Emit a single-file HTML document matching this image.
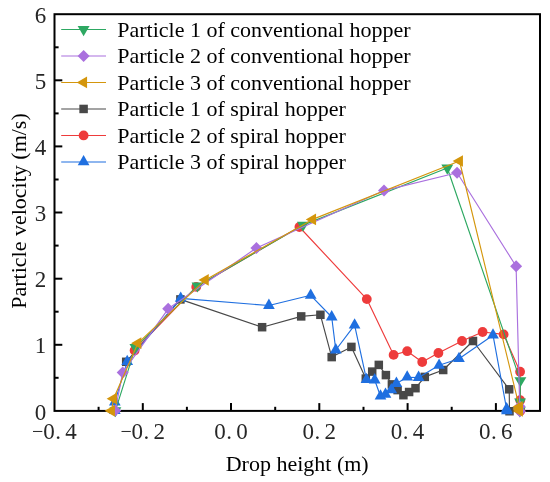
<!DOCTYPE html>
<html lang="en">
<head>
<meta charset="utf-8">
<title>Particle velocity vs drop height</title>
<style>
html,body{margin:0;padding:0;background:#fff;}
body{width:550px;height:482px;overflow:hidden;}
svg{display:block;}
.lab{font-family:"Liberation Serif",serif;font-size:22px;fill:#000;}
.tick{font-family:"Liberation Serif",serif;font-size:23px;fill:#262626;}
</style>
</head>
<body>
<svg width="550" height="482" viewBox="0 0 550 482">
<rect x="0" y="0" width="550" height="482" fill="#ffffff"/>

<g id="axes" stroke="#000" stroke-width="2" fill="none">
<rect x="54.5" y="14.2" width="485.5" height="396.7"/>
<line x1="98.6" y1="410.9" x2="98.6" y2="406.8"/>
<line x1="142.8" y1="410.9" x2="142.8" y2="403.1"/>
<line x1="186.9" y1="410.9" x2="186.9" y2="406.8"/>
<line x1="231.0" y1="410.9" x2="231.0" y2="403.1"/>
<line x1="275.2" y1="410.9" x2="275.2" y2="406.8"/>
<line x1="319.3" y1="410.9" x2="319.3" y2="403.1"/>
<line x1="363.5" y1="410.9" x2="363.5" y2="406.8"/>
<line x1="407.6" y1="410.9" x2="407.6" y2="403.1"/>
<line x1="451.7" y1="410.9" x2="451.7" y2="406.8"/>
<line x1="495.9" y1="410.9" x2="495.9" y2="403.1"/>
<line x1="54.5" y1="377.8" x2="58.6" y2="377.8"/>
<line x1="54.5" y1="344.8" x2="62.3" y2="344.8"/>
<line x1="54.5" y1="311.7" x2="58.6" y2="311.7"/>
<line x1="54.5" y1="278.7" x2="62.3" y2="278.7"/>
<line x1="54.5" y1="245.6" x2="58.6" y2="245.6"/>
<line x1="54.5" y1="212.5" x2="62.3" y2="212.5"/>
<line x1="54.5" y1="179.5" x2="58.6" y2="179.5"/>
<line x1="54.5" y1="146.4" x2="62.3" y2="146.4"/>
<line x1="54.5" y1="113.4" x2="58.6" y2="113.4"/>
<line x1="54.5" y1="80.3" x2="62.3" y2="80.3"/>
<line x1="54.5" y1="47.3" x2="58.6" y2="47.3"/>
</g>
<g id="series" stroke-linejoin="round">
<g class="s-black">
<polyline fill="none" stroke="#484848" stroke-width="1.15" points="126.2,361.8 180.4,299.4 262.1,327.2 301.2,316.4 320.4,314.8 331.7,357.1 351.4,346.9 365.8,378.6 372.2,371.6 378.8,364.9 385.9,375.1 391.9,384.4 397.6,390.1 403.4,395.2 409.1,392.0 415.5,388.2 424.8,376.9 443.2,370.0 473.0,341.0 509.2,389.3 509.5,411.2"/>
<rect x="121.95" y="357.55" width="8.5" height="8.5" fill="#484848"/>
<rect x="176.15" y="295.15" width="8.5" height="8.5" fill="#484848"/>
<rect x="257.85" y="322.95" width="8.5" height="8.5" fill="#484848"/>
<rect x="296.95" y="312.15" width="8.5" height="8.5" fill="#484848"/>
<rect x="316.15" y="310.55" width="8.5" height="8.5" fill="#484848"/>
<rect x="327.45" y="352.85" width="8.5" height="8.5" fill="#484848"/>
<rect x="347.15" y="342.65" width="8.5" height="8.5" fill="#484848"/>
<rect x="361.55" y="374.35" width="8.5" height="8.5" fill="#484848"/>
<rect x="367.95" y="367.35" width="8.5" height="8.5" fill="#484848"/>
<rect x="374.55" y="360.65" width="8.5" height="8.5" fill="#484848"/>
<rect x="381.65" y="370.85" width="8.5" height="8.5" fill="#484848"/>
<rect x="387.65" y="380.15" width="8.5" height="8.5" fill="#484848"/>
<rect x="393.35" y="385.85" width="8.5" height="8.5" fill="#484848"/>
<rect x="399.15" y="390.95" width="8.5" height="8.5" fill="#484848"/>
<rect x="404.85" y="387.75" width="8.5" height="8.5" fill="#484848"/>
<rect x="411.25" y="383.95" width="8.5" height="8.5" fill="#484848"/>
<rect x="420.55" y="372.65" width="8.5" height="8.5" fill="#484848"/>
<rect x="438.95" y="365.75" width="8.5" height="8.5" fill="#484848"/>
<rect x="468.75" y="336.75" width="8.5" height="8.5" fill="#484848"/>
<rect x="504.95" y="385.05" width="8.5" height="8.5" fill="#484848"/>
<rect x="505.25" y="407.00" width="8.5" height="8.5" fill="#484848"/>
</g>
<g class="s-red">
<polyline fill="none" stroke="#ee3b3b" stroke-width="1.15" points="134.6,350.5 196.2,286.9 299.4,227.0 366.8,299.1 393.6,354.9 407.2,351.2 422.2,362.0 438.4,353.0 462.0,341.0 482.6,332.0 503.6,334.4 520.1,371.7 520.2,400.2 520.4,410.8"/>
<circle cx="134.60" cy="350.50" r="4.9" fill="#ee3b3b"/>
<circle cx="196.20" cy="286.90" r="4.9" fill="#ee3b3b"/>
<circle cx="299.40" cy="227.00" r="4.9" fill="#ee3b3b"/>
<circle cx="366.80" cy="299.10" r="4.9" fill="#ee3b3b"/>
<circle cx="393.60" cy="354.90" r="4.9" fill="#ee3b3b"/>
<circle cx="407.20" cy="351.20" r="4.9" fill="#ee3b3b"/>
<circle cx="422.20" cy="362.00" r="4.9" fill="#ee3b3b"/>
<circle cx="438.40" cy="353.00" r="4.9" fill="#ee3b3b"/>
<circle cx="462.00" cy="341.00" r="4.9" fill="#ee3b3b"/>
<circle cx="482.60" cy="332.00" r="4.9" fill="#ee3b3b"/>
<circle cx="503.60" cy="334.40" r="4.9" fill="#ee3b3b"/>
<circle cx="520.10" cy="371.70" r="4.9" fill="#ee3b3b"/>
<circle cx="520.20" cy="400.20" r="4.9" fill="#ee3b3b"/>
<circle cx="520.40" cy="410.80" r="4.9" fill="#ee3b3b"/>
</g>
<g class="s-blue">
<polyline fill="none" stroke="#1f6fe0" stroke-width="1.15" points="114.8,410.7 114.8,402.1 127.2,361.7 180.7,298.4 268.9,305.5 310.7,295.3 331.7,317.0 335.8,350.0 354.6,325.2 366.5,379.7 374.7,380.0 380.5,396.2 385.5,394.3 391.3,389.9 396.4,383.5 407.2,377.2 418.6,377.5 439.1,365.3 459.0,358.7 493.0,335.2 506.6,409.0 506.9,410.8"/>
<polygon points="108.95,414.10 120.65,414.10 114.80,403.80" fill="#1f6fe0"/>
<polygon points="108.95,405.50 120.65,405.50 114.80,395.20" fill="#1f6fe0"/>
<polygon points="121.35,365.10 133.05,365.10 127.20,354.80" fill="#1f6fe0"/>
<polygon points="174.85,301.80 186.55,301.80 180.70,291.50" fill="#1f6fe0"/>
<polygon points="263.05,308.90 274.75,308.90 268.90,298.60" fill="#1f6fe0"/>
<polygon points="304.85,298.70 316.55,298.70 310.70,288.40" fill="#1f6fe0"/>
<polygon points="325.85,320.40 337.55,320.40 331.70,310.10" fill="#1f6fe0"/>
<polygon points="329.95,353.40 341.65,353.40 335.80,343.10" fill="#1f6fe0"/>
<polygon points="348.75,328.60 360.45,328.60 354.60,318.30" fill="#1f6fe0"/>
<polygon points="360.65,383.10 372.35,383.10 366.50,372.80" fill="#1f6fe0"/>
<polygon points="368.85,383.40 380.55,383.40 374.70,373.10" fill="#1f6fe0"/>
<polygon points="374.65,399.60 386.35,399.60 380.50,389.30" fill="#1f6fe0"/>
<polygon points="379.65,397.70 391.35,397.70 385.50,387.40" fill="#1f6fe0"/>
<polygon points="385.45,393.30 397.15,393.30 391.30,383.00" fill="#1f6fe0"/>
<polygon points="390.55,386.90 402.25,386.90 396.40,376.60" fill="#1f6fe0"/>
<polygon points="401.35,380.60 413.05,380.60 407.20,370.30" fill="#1f6fe0"/>
<polygon points="412.75,380.90 424.45,380.90 418.60,370.60" fill="#1f6fe0"/>
<polygon points="433.25,368.70 444.95,368.70 439.10,358.40" fill="#1f6fe0"/>
<polygon points="453.15,362.10 464.85,362.10 459.00,351.80" fill="#1f6fe0"/>
<polygon points="487.15,338.60 498.85,338.60 493.00,328.30" fill="#1f6fe0"/>
<polygon points="500.75,412.40 512.45,412.40 506.60,402.10" fill="#1f6fe0"/>
<polygon points="501.05,414.20 512.75,414.20 506.90,403.90" fill="#1f6fe0"/>
</g>
<g class="s-green">
<polyline fill="none" stroke="#2da862" stroke-width="1.15" points="115.4,410.6 135.4,347.4 197.5,285.9 303.0,225.1 447.3,168.0 520.4,380.6 520.1,401.9 519.8,410.7"/>
<polygon points="109.45,407.20 121.35,407.20 115.40,417.30" fill="#2da862"/>
<polygon points="129.45,344.00 141.35,344.00 135.40,354.10" fill="#2da862"/>
<polygon points="191.55,282.50 203.45,282.50 197.50,292.60" fill="#2da862"/>
<polygon points="297.05,221.70 308.95,221.70 303.00,231.80" fill="#2da862"/>
<polygon points="441.35,164.60 453.25,164.60 447.30,174.70" fill="#2da862"/>
<polygon points="514.45,377.20 526.35,377.20 520.40,387.30" fill="#2da862"/>
<polygon points="514.15,398.50 526.05,398.50 520.10,408.60" fill="#2da862"/>
<polygon points="513.85,407.30 525.75,407.30 519.80,417.40" fill="#2da862"/>
</g>
<g class="s-purple">
<polyline fill="none" stroke="#aa70de" stroke-width="1.15" points="115.2,410.6 122.7,372.6 168.2,308.8 256.4,248.0 384.0,190.6 457.1,172.7 516.1,266.2 519.7,406.5 519.9,411.2"/>
<polygon points="109.20,410.60 115.20,404.60 121.20,410.60 115.20,416.60" fill="#aa70de"/>
<polygon points="116.70,372.60 122.70,366.60 128.70,372.60 122.70,378.60" fill="#aa70de"/>
<polygon points="162.20,308.80 168.20,302.80 174.20,308.80 168.20,314.80" fill="#aa70de"/>
<polygon points="250.40,248.00 256.40,242.00 262.40,248.00 256.40,254.00" fill="#aa70de"/>
<polygon points="378.00,190.60 384.00,184.60 390.00,190.60 384.00,196.60" fill="#aa70de"/>
<polygon points="451.05,172.70 457.05,166.70 463.05,172.70 457.05,178.70" fill="#aa70de"/>
<polygon points="510.10,266.20 516.10,260.20 522.10,266.20 516.10,272.20" fill="#aa70de"/>
<polygon points="513.70,406.50 519.70,400.50 525.70,406.50 519.70,412.50" fill="#aa70de"/>
<polygon points="513.90,411.20 519.90,405.20 525.90,411.20 519.90,417.20" fill="#aa70de"/>
</g>
<g class="s-gold">
<polyline fill="none" stroke="#d4960c" stroke-width="1.15" points="111.5,410.8 113.5,398.7 137.9,343.2 205.3,279.9 312.6,219.4 459.5,161.0 519.3,406.8 519.4,408.9 519.4,411.0"/>
<polygon points="114.95,404.95 114.95,416.65 104.65,410.80" fill="#d4960c"/>
<polygon points="116.95,392.85 116.95,404.55 106.65,398.70" fill="#d4960c"/>
<polygon points="141.35,337.35 141.35,349.05 131.05,343.20" fill="#d4960c"/>
<polygon points="208.75,274.05 208.75,285.75 198.45,279.90" fill="#d4960c"/>
<polygon points="316.05,213.55 316.05,225.25 305.75,219.40" fill="#d4960c"/>
<polygon points="462.95,155.15 462.95,166.85 452.65,161.00" fill="#d4960c"/>
<polygon points="522.75,400.95 522.75,412.65 512.45,406.80" fill="#d4960c"/>
<polygon points="522.80,403.05 522.80,414.75 512.50,408.90" fill="#d4960c"/>
<polygon points="522.85,405.15 522.85,416.85 512.55,411.00" fill="#d4960c"/>
</g>
</g>
<g id="ticklabels" class="tick">
<text y="437.7" x="32.1" font-size="20">−</text>
<text y="438.5" x="43.2 55.2 65.2">0.4</text>
<text y="437.7" x="120.4" font-size="20">−</text>
<text y="438.5" x="131.5 143.5 153.5">0.2</text>
<text y="438.5" x="214.3 226.2 236.3">0.0</text>
<text y="438.5" x="302.6 314.5 324.6">0.2</text>
<text y="438.5" x="390.8 402.8 412.8">0.4</text>
<text y="438.5" x="479.1 491.1 501.1">0.6</text>
<text x="34.8" y="419.5">0</text>
<text x="34.8" y="353.4">1</text>
<text x="34.8" y="287.3">2</text>
<text x="34.8" y="221.1">3</text>
<text x="34.8" y="155.0">4</text>
<text x="34.8" y="88.9">5</text>
<text x="34.8" y="22.8">6</text>
</g>
<text class="lab" x="297.2" y="470.6" text-anchor="middle">Drop height (m)</text>
<text class="lab" transform="translate(25.5,211.0) rotate(-90)" text-anchor="middle">Particle velocity (m/s)</text>
<g id="legend">
<line x1="61.2" y1="29.45" x2="106" y2="29.45" stroke="#2da862" stroke-width="1.15"/>
<polygon points="77.65,26.05 89.55,26.05 83.60,36.15" fill="#2da862"/>
<text class="lab" x="117.3" y="36.9">Particle 1 of conventional hopper</text>
<line x1="61.2" y1="55.95" x2="106" y2="55.95" stroke="#aa70de" stroke-width="1.15"/>
<polygon points="77.60,55.95 83.60,49.95 89.60,55.95 83.60,61.95" fill="#aa70de"/>
<text class="lab" x="117.3" y="63.4">Particle 2 of conventional hopper</text>
<line x1="61.2" y1="82.45" x2="106" y2="82.45" stroke="#d4960c" stroke-width="1.15"/>
<polygon points="87.05,76.60 87.05,88.30 76.75,82.45" fill="#d4960c"/>
<text class="lab" x="117.3" y="89.9">Particle 3 of conventional hopper</text>
<line x1="61.2" y1="108.95" x2="106" y2="108.95" stroke="#484848" stroke-width="1.15"/>
<rect x="79.35" y="104.70" width="8.5" height="8.5" fill="#484848"/>
<text class="lab" x="117.3" y="116.4">Particle 1 of spiral hopper</text>
<line x1="61.2" y1="135.45" x2="106" y2="135.45" stroke="#ee3b3b" stroke-width="1.15"/>
<circle cx="83.60" cy="135.45" r="4.9" fill="#ee3b3b"/>
<text class="lab" x="117.3" y="142.8">Particle 2 of spiral hopper</text>
<line x1="61.2" y1="161.95" x2="106" y2="161.95" stroke="#1f6fe0" stroke-width="1.15"/>
<polygon points="77.75,165.35 89.45,165.35 83.60,155.05" fill="#1f6fe0"/>
<text class="lab" x="117.3" y="169.3">Particle 3 of spiral hopper</text>
</g>
</svg>
</body>
</html>
